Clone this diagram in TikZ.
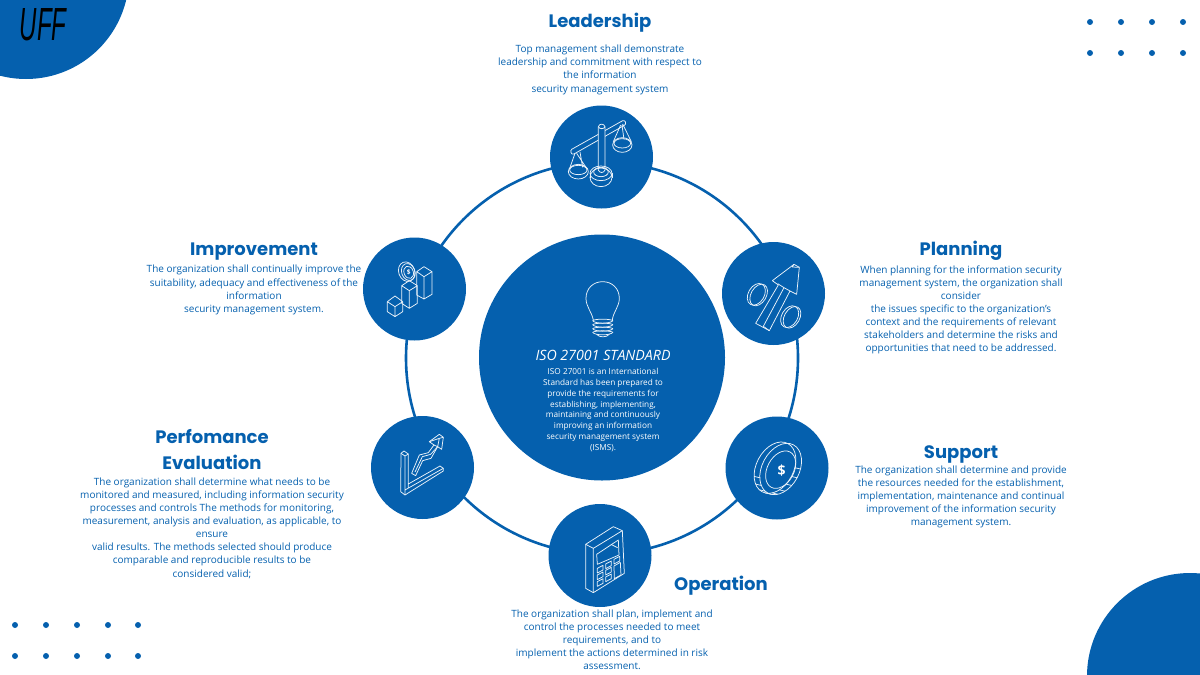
\documentclass[tikz,border=0pt]{standalone}
\usepackage{fontspec}
\setmainfont{Open Sans}
\newfontfamily\headf{Poppins}
\newfontfamily\handf{Liberation Sans}
\definecolor{isoblue}{HTML}{0560AE}
\tikzset{
  bubble/.style={circle,fill=isoblue,minimum size=#1,inner sep=0pt},
  ring/.style={circle,draw=isoblue,line width=2.6pt,minimum size=392pt,inner sep=0pt},
  headtext/.style={text=isoblue,align=center,font=\headf\bfseries\fontsize{18}{26}\selectfont},
  bodytext/.style={text=isoblue,align=center,font=\fontsize{10}{13.1}\selectfont},
  centretext/.style={text=white,align=center,font=\fontsize{8.25}{10.75}\selectfont},
  iconline/.style={draw=white!92!isoblue,line width=0.75pt,line join=round},
  bluedot/.style={circle,fill=isoblue,minimum size=6pt,inner sep=0pt}
}
\newcommand{\iconellipse}[5]{\draw[iconline] (#1,#2) ellipse [x radius=#3,y radius=#4,rotate=#5];}
\begin{document}
\begin{tikzpicture}[x=1pt,y=-1pt]
\useasboundingbox (0,0) rectangle (1200,675);
\begin{scope}
\clip (0,0) rectangle (1200,675);
\node[bubble=206pt] (cornerA) at (26,-24) {};
\node[bubble=206pt] (cornerB) at (1190,676) {};
\end{scope}
\node[text=black,font=\handf\itshape\fontsize{30}{30}\selectfont,xscale=0.8,yscale=1.55] (signature) at (43,24.5) {UFF};
\foreach \i/\x in {1/1090,2/1121,3/1152,4/1183}{
  \node[bluedot] (tr\i) at (\x,22) {};
  \node[bluedot] (trb\i) at (\x,53) {};
}
\foreach \i/\x in {1/15,2/46,3/77,4/108,5/138}{
  \node[bluedot] (bl\i) at (\x,625) {};
  \node[bubble=6pt] (blb\i) at (\x,656) {};
}
\node[ring] (loop) at (602,358) {};
\node[bubble=246pt] (core) at (602,357.5) {};
\node[bubble=103pt] (leader) at (601.5,157) {};
\node[bubble=103pt] (plan) at (773.5,293.5) {};
\node[bubble=103pt] (support) at (777,468) {};
\node[bubble=103pt] (oper) at (600,555.5) {};
\node[bubble=103pt] (perf) at (422.5,467.5) {};
\node[bubble=103pt] (improve) at (414.5,289) {};

% headings and texts
\node[headtext] (h1) at (600,23) {Leadership};
\node[bodytext] (t1) at (600,69.8) {Top management shall demonstrate\\leadership and commitment with respect to\\the information\\security management system};
\node[headtext] (h2) at (961,251) {Planning};
\node[bodytext] (t2) at (961,310) {When planning for the information security\\management system, the organization shall\\consider\\the issues specific to the organization’s\\context and the requirements of relevant\\stakeholders and determine the risks and\\opportunities that need to be addressed.};
\node[headtext] (h3) at (961,454.5) {Support};
\node[bodytext] (t3) at (961,497) {The organization shall determine and provide\\the resources needed for the establishment,\\implementation, maintenance and continual\\improvement of the information security\\management system.};
\node[headtext] (h4) at (721,586) {Operation};
\node[bodytext] (t4) at (612,640) {The organization shall plan, implement and\\control the processes needed to meet\\requirements, and to\\implement the actions determined in risk\\assessment.};
\node[headtext] (h5) at (212,449.5) {Perfomance\\Evaluation};
\node[bodytext] (t5) at (212,528) {The organization shall determine what needs to be\\monitored and measured, including information security\\processes and controls The methods for monitoring,\\measurement, analysis and evaluation, as applicable, to\\ensure\\valid results. The methods selected should produce\\comparable and reproducible results to be\\considered valid;};
\node[headtext] (h6) at (254,251.5) {Improvement};
\node[bodytext] (t6) at (254,290) {The organization shall continually improve the\\suitability, adequacy and effectiveness of the\\information\\security management system.};
\node[text=white,font=\itshape\fontsize{14.2}{16}\selectfont] (title) at (603,355) {ISO 27001 STANDARD};
\node[centretext] (coretext) at (603,410) {ISO 27001 is an International\\Standard has been prepared to\\provide the requirements for\\establishing, implementing,\\maintaining and continuously\\improving an information\\security management system\\(ISMS).};

% bulb
\begin{scope}[shift={(530,270)},x=0.3333pt,y=-0.3333pt]
\draw[iconline] (190,150) .. controls (185,125) and (168,110) .. (168,85) .. controls (168,55) and (190,35) .. (218,35) .. controls (246,35) and (268,55) .. (268,85) .. controls (268,110) and (250,125) .. (247,150);
\foreach \y in {152,164,176,187}{
  \draw[iconline] (188,\y) .. controls (195,\y+10) and (240,\y+10) .. (249,\y);
  \draw[iconline] (188,\y) .. controls (195,\y-6) and (240,\y-6) .. (249,\y);
}
\draw[iconline] (200,193) .. controls (207,203) and (230,203) .. (238,193);
\end{scope}

% scales
\begin{scope}[shift={(530,90)},x=0.3333pt,y=-0.3333pt]
\draw[iconline] (125,178) -- (278,92) .. controls (288,90) and (290,102) .. (283,106) -- (132,192) .. controls (122,195) and (120,182) .. (125,178);
\draw[iconline,fill=isoblue] (205,110) -- (205,240) .. controls (208,250) and (222,250) .. (225,240) -- (225,110) .. controls (222,100) and (208,100) .. (205,110);
\draw[iconline] (205,110) .. controls (208,118) and (222,118) .. (225,110);
\iconellipse{145}{245}{30}{22}{0}
\iconellipse{145}{240}{26}{14}{0}
\iconellipse{277}{165}{29}{22}{0}
\iconellipse{277}{160}{25}{14}{0}
\draw[iconline] (135,190) -- (118,238) (140,190) -- (172,238) (150,186) -- (158,232);
\draw[iconline] (272,105) -- (250,155) (278,102) -- (304,155) (276,105) -- (282,148);
\iconellipse{213}{262}{33}{28}{0}
\iconellipse{213}{250}{33}{22}{0}
\iconellipse{213}{246}{22}{14}{0}
\draw[iconline] (180,250) -- (180,264) (246,250) -- (246,264);
\end{scope}

% bars and coin
\begin{scope}[shift={(350,225)},x=0.3333pt,y=-0.3333pt]
\draw[iconline] (112,230) -- (135,213) -- (158,230) -- (135,245) -- cycle (112,230) -- (112,260) -- (135,275) -- (158,260) -- (158,230) (135,245) -- (135,275);
\draw[iconline] (155,182) -- (178,167) -- (202,182) -- (178,197) -- cycle (155,182) -- (155,235) -- (178,250) -- (202,235) -- (202,182) (178,197) -- (178,250);
\draw[iconline] (200,140) -- (222,125) -- (246,140) -- (222,155) -- cycle (200,140) -- (200,210) -- (222,222) -- (246,208) -- (246,140) (222,155) -- (222,222);
\iconellipse{170}{140}{24}{30}{20}
\iconellipse{175}{141}{20}{26}{20}
\iconellipse{176}{142}{14}{19}{20}
\node[text=white,font=\fontsize{6.5}{7}\bfseries\selectfont,inner sep=0pt] (coinA) at (176,142) {\$};
\end{scope}

% percent arrow
\begin{scope}[shift={(710,235)},x=0.3333pt,y=-0.3333pt]
\draw[iconline] (137,265) -- (205,150) -- (187,137) -- (252,88) -- (268,97) -- (260,178) -- (240,168) -- (178,287) -- cycle;
\draw[iconline] (160,274) -- (222,158) -- (240,168) (222,158) -- (203,146) (252,88) -- (246,96) (246,96) -- (268,97) (160,274) -- (178,287);
\iconellipse{139}{178}{35}{24}{60}
\iconellipse{146}{180}{35}{23}{60}
\iconellipse{239}{245}{35}{24}{60}
\iconellipse{246}{247}{35}{23}{60}
\end{scope}

% coin
\begin{scope}[shift={(710,405)},x=0.3333pt,y=-0.3333pt]
\iconellipse{195}{188}{82}{56}{62}
\iconellipse{212}{192}{82}{56}{62}
\iconellipse{212}{194}{60}{40}{62}
\foreach \t in {70,90,...,230}{
  \draw[iconline] ({195+82*cos(\t)*0.47+56*sin(\t)*0.88},{188-82*cos(\t)*0.88+56*sin(\t)*0.47}) -- ({212+82*cos(\t)*0.47+56*sin(\t)*0.88},{192-82*cos(\t)*0.88+56*sin(\t)*0.47});
}
\node[text=white,font=\fontsize{14}{14}\bfseries\selectfont,inner sep=0pt] (coinB) at (215,197) {\$};
\end{scope}

% calculator
\begin{scope}[shift={(535,495)},x=0.3333pt,y=-0.3333pt]
\draw[iconline] (152,148) -- (235,95) -- (262,107) -- (268,235) -- (175,293) -- (152,280) -- cycle;
\draw[iconline] (152,148) -- (175,160) -- (262,107) (175,160) -- (175,293);
\draw[iconline] (185,178) -- (250,135) -- (252,180) -- (187,208) -- cycle;
\draw[iconline] (228,148) -- (248,158);
\foreach \bx/\by in {187/220,212/207,237/193,187/240,212/226,187/260,212/246}{
  \draw[iconline] (\bx,\by) -- (\bx+17,\by-9) -- (\bx+17,\by+5) -- (\bx,\by+14) -- cycle;
}
\draw[iconline] (237,213) -- (256,202) -- (258,240) -- (238,251) -- cycle;
\end{scope}

% chart
\begin{scope}[shift={(360,410)},x=0.3333pt,y=-0.3333pt]
\draw[iconline] (123,130) -- (132,123) -- (145,132) -- (145,222) -- (240,168) -- (250,175) -- (250,183) -- (135,255) -- (122,245) -- cycle;
\draw[iconline] (123,130) -- (135,138) -- (145,132) (135,138) -- (135,255) (135,240) -- (250,175) (145,222) -- (145,235);
\draw[iconline] (155,190) -- (178,135) -- (205,128) -- (222,105) -- (208,95) -- (238,73) -- (250,82) -- (245,118) -- (233,110) -- (213,145) -- (188,152) -- (167,197) -- cycle;
\draw[iconline] (165,186) -- (187,140) -- (212,133) -- (233,110) (222,105) -- (233,110) -- (238,85) -- (250,82) (208,95) -- (238,85);
\end{scope}
\end{tikzpicture}
\end{document}
